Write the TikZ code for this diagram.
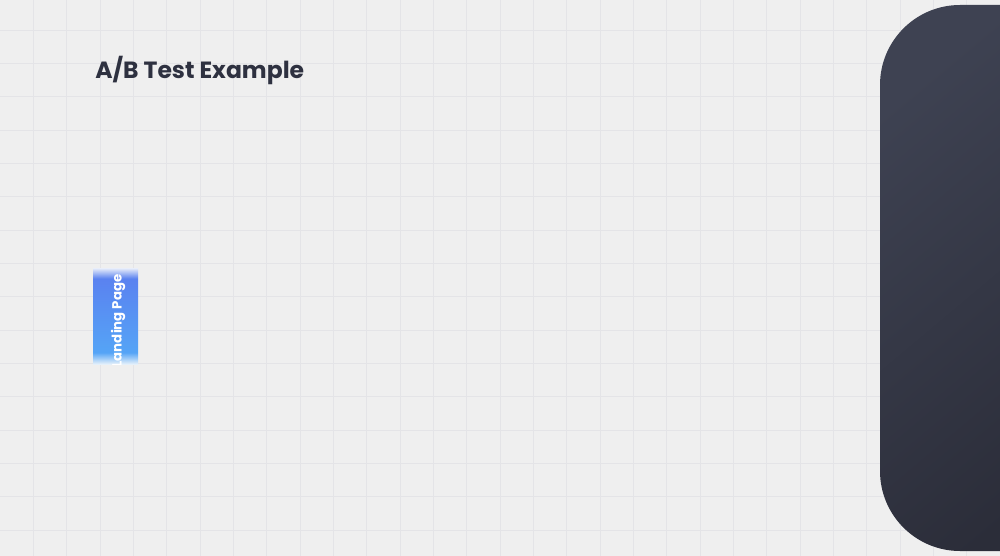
\documentclass[tikz,border=0pt]{standalone}
\usepackage{fontspec}
\setmainfont{Poppins}
\definecolor{bgcol}{HTML}{EFEFEF}
\definecolor{gridcol}{HTML}{E4E4E7}
\definecolor{titlecol}{HTML}{2E3140}
\definecolor{paneltop}{HTML}{3E4252}
\definecolor{panelbot}{HTML}{2B2D39}
\definecolor{lptop}{HTML}{5A82F0}
\definecolor{lpbot}{HTML}{55A4F6}
\definecolor{lptopfade}{HTML}{E9EEFA}
\definecolor{lpbotfade}{HTML}{E4F0FA}
\pgfdeclareverticalshading{lpshade}{100bp}{color(0bp)=(lpbotfade); color(25bp)=(lpbotfade); color(31bp)=(lpbot); color(69.5bp)=(lptop); color(75bp)=(lptopfade); color(100bp)=(lptopfade)}
\begin{document}
\begin{tikzpicture}[x=0.75pt,y=-0.75pt,
  gridline/.style={draw=gridcol,line width=0.6pt},
  titletext/.style={font=\fontsize{17.6pt}{21pt}\selectfont\bfseries,text=titlecol,inner sep=0pt,anchor=base west},
  lptext/.style={font=\fontsize{10pt}{12pt}\selectfont\bfseries,text=white,inner sep=0pt,anchor=base,rotate=90}]
\useasboundingbox (0,0) rectangle (1000,556);
\fill[bgcol] (0,0) rectangle (1000,556);
\foreach \k in {1,...,29} {\draw[gridline] ({33.333*\k},0) -- ({33.333*\k},556);}
\foreach \k in {0,...,15} {\draw[gridline] (0,{30+33.333*\k}) -- (1000,{30+33.333*\k});}
\node[titletext] (title) at (95,79) {A/B Test Example};
\shade[shading=lpshade] (93,268) rectangle (138,364);
\begin{scope}
\clip (93,268) rectangle (138,364);
\node[lptext] (lp) at (121.5,321) {Landing Page};
\end{scope}
\shade[rounded corners=60pt,top color=paneltop,bottom color=panelbot,shading angle=40] (880,5) rectangle (1100,551);
\end{tikzpicture}
\end{document}
